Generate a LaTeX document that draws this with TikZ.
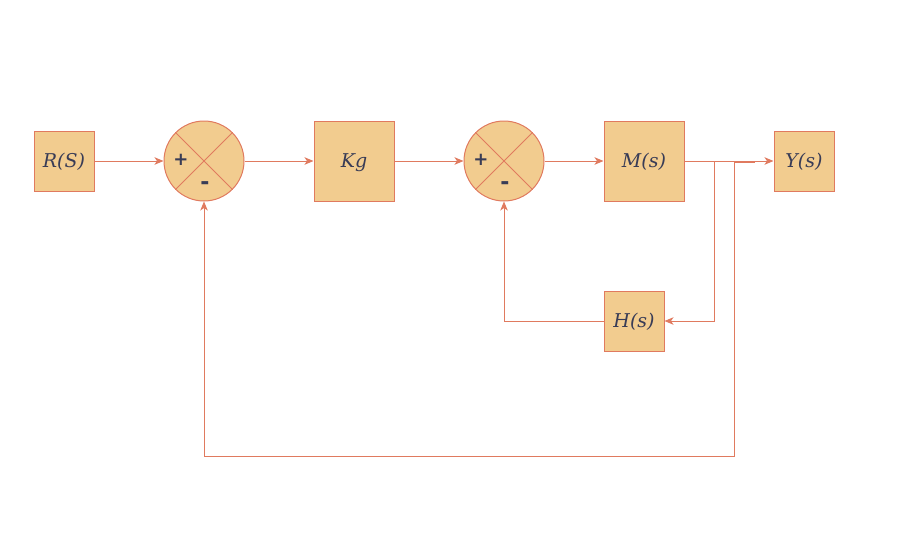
\documentclass[tikz,border=0pt]{standalone}
\usepackage{fontspec}
\setmainfont{DejaVu Serif}
\setsansfont{DejaVu Sans}
\usetikzlibrary{arrows.meta}
\definecolor{fillc}{HTML}{F2CC8F}
\definecolor{strokec}{HTML}{E07A5F}
\definecolor{textc}{HTML}{393C56}
\newcommand{\lowtxt}[1]{\raisebox{-6pt}[0pt][0pt]{#1}}
\begin{document}
\begin{tikzpicture}[x=1pt,y=-1pt,
  blk/.style={draw=strokec,fill=fillc,line width=1pt,inner sep=0pt,text=textc,font=\fontsize{19}{22}\selectfont\itshape},
  sumc/.style={draw=strokec,fill=fillc,line width=1pt,circle,minimum size=80pt,inner sep=0pt},
  sgn/.style={text=textc,font=\fontsize{18}{20}\selectfont\sffamily\bfseries,inner sep=0pt},
  conn/.style={draw=strokec,line width=1pt},
  arr/.style={conn,-{Stealth[length=9pt,width=7.5pt,inset=2.5pt]}}]
\useasboundingbox (0,0) rectangle (903,536);
\node[blk,minimum width=60pt,minimum height=60pt] (r) at (64,161) {\lowtxt{R(S)}};
\node[sumc] (s1) at (204,161) {};
\node[blk,minimum width=80pt,minimum height=80pt] (kg) at (354,161) {\lowtxt{Kg}};
\node[sumc] (s2) at (504,161) {};
\node[blk,minimum width=80pt,minimum height=80pt] (m) at (644,161) {\lowtxt{M(s)}};
\node[blk,minimum width=60pt,minimum height=60pt] (y) at (804,161) {\lowtxt{Y(s)}};
\node[blk,minimum width=60pt,minimum height=60pt] (h) at (634,321) {\lowtxt{H(s)}};
\foreach \s in {s1,s2}{
  \draw[strokec,line width=1pt] (\s.north west) -- (\s.south east);
  \draw[strokec,line width=1pt] (\s.north east) -- (\s.south west);
}
\node[sgn] (p1) at (181,160) {+};
\node[sgn,font=\fontsize{22}{24}\selectfont\sffamily\bfseries] (n1) at (205,186) {-};
\node[sgn] (p2) at (481,160) {+};
\node[sgn,font=\fontsize{22}{24}\selectfont\sffamily\bfseries] (n2) at (505,186) {-};
\coordinate (b1) at (714,161);
\coordinate (b2) at (755,162);
\draw[arr] (r) -- (s1);
\draw[arr] (s1) -- (kg);
\draw[arr] (kg) -- (s2);
\draw[arr] (s2) -- (m);
\draw[arr] (m) -- (y);
\draw[arr] (b1) -- (b1 |- h) -- (h);
\draw[arr] (h) -- (h -| s2) -- (s2);
\draw[arr] (b2) -- (734,162) -- (734,456) -- (s1 |- 0,456) -- (s1);
\end{tikzpicture}
\end{document}
